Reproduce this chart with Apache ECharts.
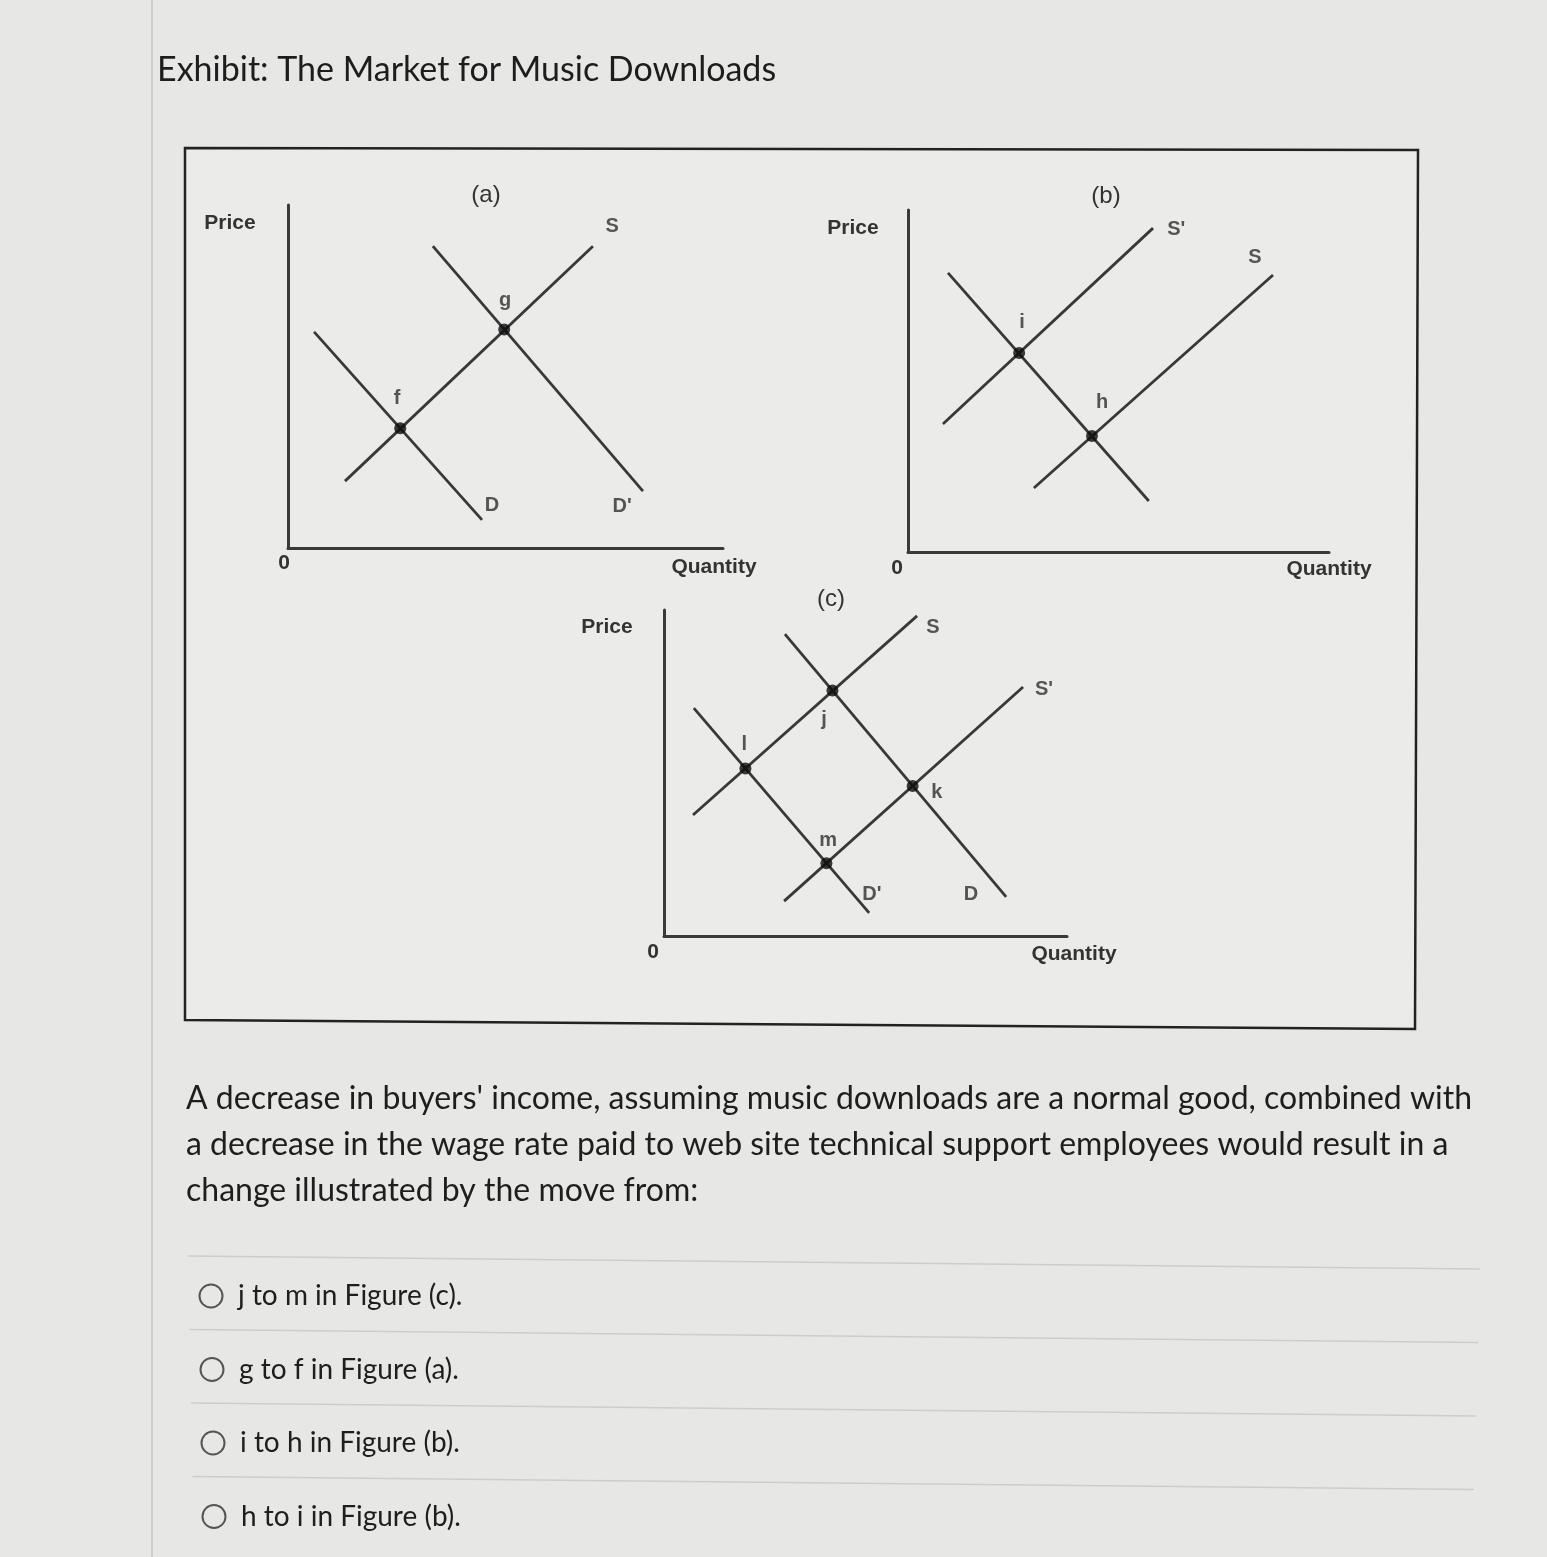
<!DOCTYPE html>
<html>
<head>
<meta charset="utf-8">
<script src="https://cdn.jsdelivr.net/npm/echarts@6/dist/echarts.min.js"></script>
<style>
html, body { margin: 0; padding: 0; background: #e7e7e5; }
#chart { width: 1547px; height: 1557px; }
</style>
</head>
<body>
<div id="chart"></div>
<script>
// values, each panel on a 0-100 scale for quantity and price

// (a) demand shifts right
var aSupply   = [[13.1, 19.5], [70.1, 88.0]];
var aDemand   = [[6.0, 63.0], [44.6, 8.2]];
var aDemand2  = [[33.3, 88.0], [81.6, 16.6]];
var aPoints   = [[25.8, 34.9], [49.7, 63.7]];
var aLabels   = [['f', 25.1, 43.7], ['g', 49.9, 72.3], ['S', 74.5, 93.6], ['D', 46.9, 12.5], ["D'", 76.8, 12.0]];

// (b) supply shifts left
var bSupply2  = [[8.3, 37.4], [58.2, 94.7]];
var bSupply   = [[29.9, 18.7], [86.7, 81.0]];
var bDemand   = [[9.5, 81.6], [57.2, 14.9]];
var bPoints   = [[26.4, 58.2], [43.7, 33.9]];
var bLabels   = [['i', 27.1, 67.0], ['h', 46.1, 43.6], ["S'", 63.7, 94.2], ['S', 82.4, 86.0]];

// (c) both shift
var cSupply   = [[7.2, 37.1], [62.8, 98.2]];
var cSupply2  = [[29.8, 10.7], [89.1, 76.4]];
var cDemand   = [[30.0, 92.6], [84.9, 12.0]];
var cDemand2  = [[7.4, 69.9], [50.9, 7.1]];
var cPoints   = [[41.8, 75.3], [20.2, 51.4], [61.7, 46.0], [40.3, 22.3]];
var cLabels   = [['j', 39.7, 66.3], ['l', 19.9, 58.6], ['k', 67.7, 43.9], ['m', 40.7, 29.4],
                 ['S', 66.7, 94.5], ["S'", 94.3, 75.5], ["D'", 51.6, 12.6], ['D', 76.2, 12.6]];

var questionLines = [
    "A decrease in buyers' income, assuming music downloads are a normal good, combined with",
    'a decrease in the wage rate paid to web site technical support employees would result in a',
    'change illustrated by the move from:'
];
var answers = ['j to m in Figure (c).', 'g to f in Figure (a).', 'i to h in Figure (b).', 'h to i in Figure (b).'];

var lineColor = '#383838';
var labelFont = 'bold 21px "Liberation Sans", Arial, sans-serif';

const myChart = echarts.init(document.getElementById('chart'));

var grids = [
    { left: 288, top: 205, width: 435, height: 343 },
    { left: 908, top: 210, width: 421, height: 342 },
    { left: 664, top: 610, width: 403, height: 326 }
];

function axis(idx) {
    return {
        type: 'value', gridIndex: idx, min: 0, max: 100,
        axisLine: { show: true, onZero: false, lineStyle: { color: '#3a3a3a', width: 3 } },
        axisTick: { show: false }, axisLabel: { show: false }, splitLine: { show: false }
    };
}

function curve(idx, data) {
    return {
        type: 'line', xAxisIndex: idx, yAxisIndex: idx, data: data,
        symbol: 'none', silent: true, animation: false,
        lineStyle: { color: lineColor, width: 2.8 }
    };
}

function dots(idx, data) {
    return {
        type: 'scatter', xAxisIndex: idx, yAxisIndex: idx, data: data,
        symbolSize: 12, itemStyle: { color: '#0d0d0d' }, animation: false, z: 5
    };
}

function tags(idx, list) {
    return {
        type: 'scatter', xAxisIndex: idx, yAxisIndex: idx,
        data: list.map(function (l) { return { name: l[0], value: [l[1], l[2]] }; }),
        symbolSize: 0, animation: false, silent: true,
        label: {
            show: true, position: 'inside', formatter: '{b}',
            fontFamily: '"Liberation Sans", Arial, sans-serif', fontWeight: 'bold',
            fontSize: 20, color: '#2e2e2e'
        }
    };
}

function txt(x, y, text, font, align, fill) {
    return {
        type: 'text', z: 10,
        style: { x: x, y: y, text: text, font: font, fill: fill || '#333',
                 textAlign: align || 'left', textVerticalAlign: 'middle' }
    };
}

var graphics = [
    { type: 'line', z: 0, shape: { x1: 152, y1: 0, x2: 152, y2: 1557 }, style: { stroke: '#cfcfcd', lineWidth: 2 } },
    { type: 'polygon', z: 0,
      shape: { points: [[185, 148], [1418, 150], [1415, 1029], [185, 1020]] },
      style: { fill: '#ebebe9', stroke: '#222', lineWidth: 2.5 } },
    txt(157, 70, 'Exhibit: The Market for Music Downloads', '34px Lato, sans-serif', 'left', '#1d1d1d'),

    txt(230, 223, 'Price', labelFont, 'center'),
    txt(486, 195, '(a)', '24px "Liberation Sans", Arial, sans-serif', 'center'),
    txt(284, 563, '0', labelFont, 'center'),
    txt(714, 567, 'Quantity', labelFont, 'center'),

    txt(853, 228, 'Price', labelFont, 'center'),
    txt(1106, 196, '(b)', '24px "Liberation Sans", Arial, sans-serif', 'center'),
    txt(897, 568, '0', labelFont, 'center'),
    txt(1329, 569, 'Quantity', labelFont, 'center'),

    txt(607, 627, 'Price', labelFont, 'center'),
    txt(831, 599, '(c)', '24px "Liberation Sans", Arial, sans-serif', 'center'),
    txt(653, 952, '0', labelFont, 'center'),
    txt(1074, 954, 'Quantity', labelFont, 'center')
];

questionLines.forEach(function (line, i) {
    graphics.push(txt(186, 1099 + i * 46, line, '32px Lato, sans-serif', 'left', '#1e1e1e'));
});

answers.forEach(function (a, i) {
    var y = 1296 + i * 73.5;
    graphics.push({ type: 'line', z: 1,
        shape: { x1: 188 + i * 1.5, y1: y - 40, x2: 1480 - i * 2, y2: y - 27 },
        style: { stroke: '#cdcdcb', lineWidth: 1.5 } });
    graphics.push({ type: 'circle', z: 10,
        shape: { cx: 211 + i, cy: y, r: 11.5 },
        style: { fill: 'none', stroke: '#555', lineWidth: 2 } });
    graphics.push(txt(238 + i, y, a, '28px Lato, sans-serif', 'left', '#1e1e1e'));
});

option = {
    backgroundColor: '#e7e7e5',
    grid: grids,
    xAxis: [axis(0), axis(1), axis(2)],
    yAxis: [axis(0), axis(1), axis(2)],
    graphic: graphics,
    series: [
        curve(0, aSupply), curve(0, aDemand), curve(0, aDemand2), dots(0, aPoints), tags(0, aLabels),
        curve(1, bSupply2), curve(1, bSupply), curve(1, bDemand), dots(1, bPoints), tags(1, bLabels),
        curve(2, cSupply), curve(2, cSupply2), curve(2, cDemand), curve(2, cDemand2), dots(2, cPoints), tags(2, cLabels)
    ]
};

if (option && typeof option === 'object') {
    myChart.setOption(option, true);
}
</script>
</body>
</html>
